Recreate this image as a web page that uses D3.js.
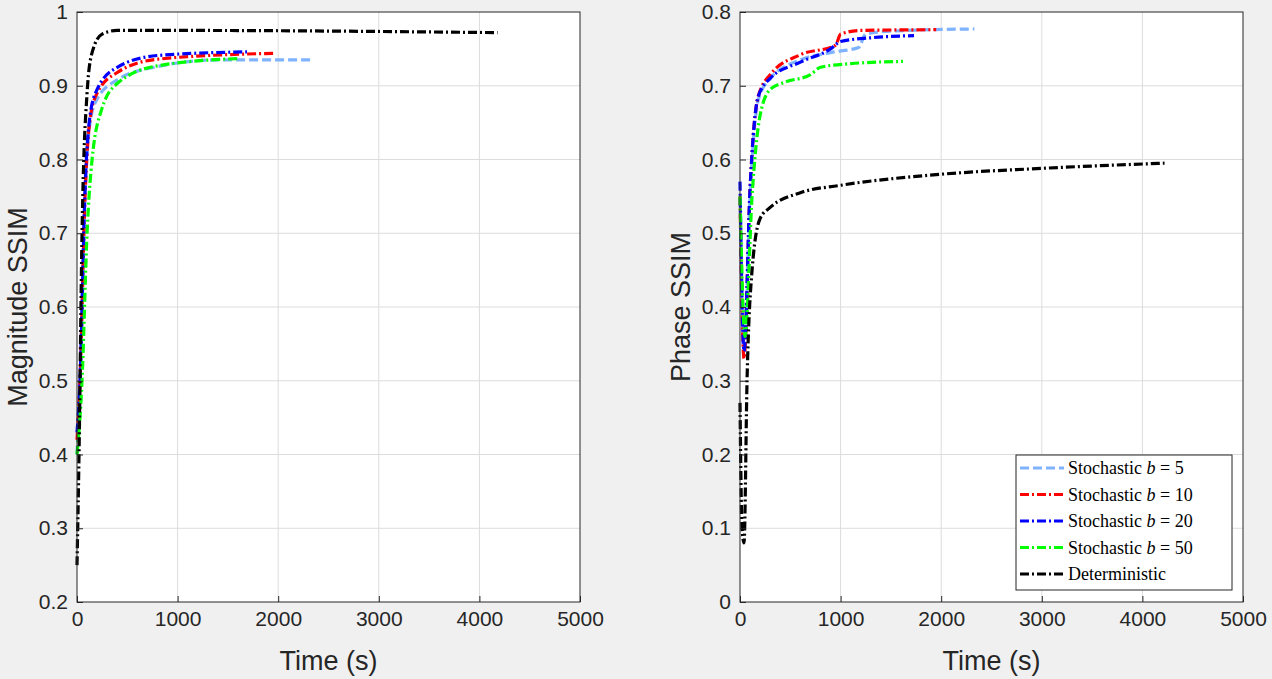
<!DOCTYPE html>
<html lang="en">
<head>
<meta charset="UTF-8">
<style>
  body { margin: 0; background: #f0f0f0; }
  .tick text { font: 21px "Liberation Sans", sans-serif; fill: #262626; }
  .grid line { stroke: #dcdcdc; stroke-width: 1px; }
  .lbl { font: 27px "Liberation Sans", sans-serif; fill: #262626; text-anchor: middle; }
  .leg { font: 18px "Liberation Serif", serif; fill: #000; }
</style>
</head>
<body>
<script src="https://cdnjs.cloudflare.com/ajax/libs/d3/7.8.5/d3.min.js"></script>
<script>

var seriesNames = ["Stochastic b = 5", "Stochastic b = 10", "Stochastic b = 20", "Stochastic b = 50", "Deterministic"];
var colors = ["#80b3ff", "#ff0000", "#0000ff", "#00ff00", "#000000"];
var dashes = ["9,4", "9,3,2,3", "9,3,2,3", "9,3,2,3", "9,3,2,3"];
var xTicks = [0, 1000, 2000, 3000, 4000, 5000];

// magnitude SSIM, [time, value]
var magB5 = [[0,0.40],[30,0.5],[80,0.75],[130,0.85],[200,0.882],[400,0.908],[800,0.926],[1400,0.935],[2350,0.935]];
var magB10 = [[0,0.42],[30,0.5],[80,0.75],[130,0.855],[200,0.89],[400,0.918],[800,0.936],[1950,0.944]];
var magB20 = [[0,0.43],[30,0.5],[80,0.76],[130,0.86],[200,0.895],[400,0.925],[800,0.941],[1690,0.946]];
var magB50 = [[0,0.40],[50,0.5],[100,0.7],[150,0.8],[250,0.87],[400,0.903],[800,0.927],[1620,0.937]];
var magDet = [[0,0.25],[20,0.4],[50,0.7],[100,0.89],[150,0.945],[250,0.97],[400,0.975],[1000,0.975],[4180,0.972]];

// phase SSIM
var phB5 = [[0,0.55],[40,0.34],[100,0.55],[180,0.68],[300,0.71],[600,0.735],[900,0.745],[1180,0.752],[1250,0.77],[1500,0.774],[2330,0.777]];
var phB10 = [[0,0.55],[40,0.33],[100,0.56],[180,0.685],[300,0.715],[600,0.742],[950,0.755],[1000,0.77],[1200,0.775],[1950,0.776]];
var phB20 = [[0,0.57],[40,0.34],[100,0.56],[180,0.685],[300,0.71],[600,0.732],[900,0.75],[1000,0.76],[1300,0.765],[1730,0.768]];
var phB50 = [[0,0.55],[50,0.36],[120,0.55],[200,0.66],[300,0.695],[450,0.705],[700,0.715],[800,0.725],[1100,0.73],[1620,0.733]];
var phDet = [[0,0.27],[20,0.1],[40,0.08],[70,0.3],[120,0.45],[200,0.52],[300,0.535],[600,0.555],[1000,0.565],[2000,0.58],[3000,0.588],[4220,0.595]];

var svg = d3.select("body").append("svg").attr("width", 1272).attr("height", 679);

function panel(left, yDomain, yTicks, label, data, legend) {
  var w = 503, h = 590, top = 12;
  var g = svg.append("g").attr("transform", "translate(" + left + "," + top + ")");
  var x = d3.scaleLinear().domain([0, 5000]).range([0, w]);
  var y = d3.scaleLinear().domain(yDomain).range([h, 0]);

  g.append("rect").attr("width", w).attr("height", h).attr("fill", "#fff");

  g.append("g").attr("class", "grid")
    .selectAll("line").data(xTicks.slice(1, -1)).enter().append("line")
    .attr("x1", x).attr("x2", x).attr("y1", 0).attr("y2", h);
  g.append("g").attr("class", "grid")
    .selectAll("line").data(yTicks.slice(1, -1)).enter().append("line")
    .attr("y1", y).attr("y2", y).attr("x1", 0).attr("x2", w);

  var line = d3.line().curve(d3.curveMonotoneX)
    .x(function(d) { return x(d[0]); }).y(function(d) { return y(d[1]); });
  data.forEach(function(s, i) {
    g.append("path").attr("d", line(s)).attr("fill", "none")
      .attr("stroke", colors[i]).attr("stroke-width", 3.2)
      .attr("stroke-dasharray", dashes[i]);
  });

  g.append("g").attr("transform", "translate(0," + h + ")")
    .call(d3.axisBottom(x).tickValues(xTicks).tickSize(-6).tickPadding(9).tickFormat(d3.format("d")));
  g.append("g")
    .call(d3.axisLeft(y).tickValues(yTicks).tickSize(-6).tickPadding(9).tickFormat(function(d) { return d === 0 || d === 1 ? d : d3.format(".1f")(d); }));
  g.append("rect").attr("width", w).attr("height", h).attr("fill", "none").attr("stroke", "#262626");
  g.selectAll(".domain").remove();
  g.selectAll(".tick line").attr("stroke", "#262626");

  g.append("text").attr("class", "lbl").attr("x", w / 2).attr("y", h + 68).text("Time (s)");
  g.append("text").attr("class", "lbl")
    .attr("transform", "translate(-50," + (h / 2) + ") rotate(-90)").text(label);

  if (legend) {
    var lg = g.append("g").attr("transform", "translate(" + (1016 - left) + "," + (455 - top) + ")");
    lg.append("rect").attr("width", 216).attr("height", 135).attr("fill", "#fff").attr("stroke", "#262626");
    seriesNames.forEach(function(n, i) {
      var yy = 13 + i * 26.5;
      lg.append("line").attr("x1", 4).attr("x2", 48).attr("y1", yy).attr("y2", yy)
        .attr("stroke", colors[i]).attr("stroke-width", 3.2).attr("stroke-dasharray", dashes[i]);
      var t = lg.append("text").attr("class", "leg").attr("x", 52).attr("y", yy + 6);
      var m = n.match(/^(Stochastic) b = (\d+)$/);
      if (m) {
        t.append("tspan").text("Stochastic ");
        t.append("tspan").attr("font-style", "italic").text("b");
        t.append("tspan").text(" = " + m[2]);
      } else t.text(n);
    });
  }
}

panel(77, [0.2, 1], [0.2,0.3,0.4,0.5,0.6,0.7,0.8,0.9,1], "Magnitude SSIM",
  [magB5, magB10, magB20, magB50, magDet], false);
panel(740, [0, 0.8], [0,0.1,0.2,0.3,0.4,0.5,0.6,0.7,0.8], "Phase SSIM",
  [phB5, phB10, phB20, phB50, phDet], true);

</script>
</body>
</html>
